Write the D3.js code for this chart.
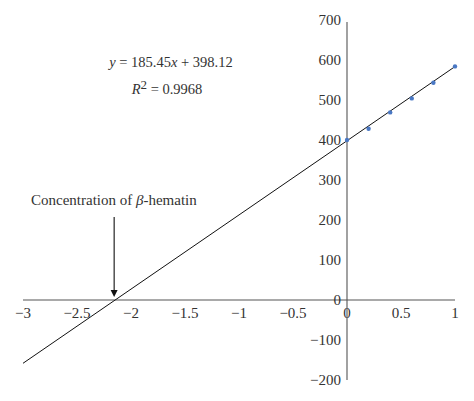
<!DOCTYPE html>
<html>
<head>
<meta charset="utf-8">
<script src="https://cdn.jsdelivr.net/npm/d3@7"></script>
<style>
  body { margin: 0; background: #fff; }
  text { font-family: "Liberation Serif", "Times New Roman", serif; fill: #333; }
</style>
</head>
<body>
<svg id="chart" width="474" height="401"></svg>
<script>
// measured points (absorbance-like values vs x)
const pointX = [0, 0.2, 0.4, 0.6, 0.8, 1.0];
const pointY = [400, 428, 469, 504, 543, 584];

// trendline from the printed equation
const slope = 185.45;
const intercept = 398.12;
const rSquared = "0.9968";

const xTicks = [-3, -2.5, -2, -1.5, -1, -0.5, 0, 0.5, 1];
const yTicks = [-200, -100, 0, 100, 200, 300, 400, 500, 600, 700];

const svg = d3.select('#chart');

const x = d3.scaleLinear().domain([-3, 1]).range([23, 455]);
const y = d3.scaleLinear().domain([0, 700]).range([300, 20]);

const fmt = d => d3.format('')(d);

// x axis line
svg.append('line')
    .attr('x1', x(-3)).attr('x2', x(1))
    .attr('y1', y(0)).attr('y2', y(0))
    .attr('stroke', '#555').attr('stroke-width', 1.1);

// x tick labels
svg.selectAll('.x-label')
    .data(xTicks)
  .join('text')
    .attr('class', 'x-label')
    .attr('x', d => x(d))
    .attr('y', y(0) + 18)
    .attr('text-anchor', 'middle')
    .style('font-size', '15px')
    .text(fmt);

// y tick labels
svg.selectAll('.y-label')
    .data(yTicks)
  .join('text')
    .attr('class', 'y-label')
    .attr('x', x(0) - 6)
    .attr('y', d => y(d))
    .attr('dy', '0.35em')
    .attr('text-anchor', 'end')
    .style('font-size', '15px')
    .text(fmt);

// y axis line
svg.append('line')
    .attr('x1', x(0)).attr('x2', x(0))
    .attr('y1', y(700) + 2).attr('y2', y(-200))
    .attr('stroke', '#555').attr('stroke-width', 1.1);

// trendline
svg.append('line')
    .attr('x1', x(-3)).attr('y1', y(slope * -3 + intercept))
    .attr('x2', x(1)).attr('y2', y(slope * 1 + intercept))
    .attr('stroke', '#111').attr('stroke-width', 1);

// data points
svg.selectAll('.pt')
    .data(pointX)
  .join('circle')
    .attr('class', 'pt')
    .attr('cx', d => x(d))
    .attr('cy', (d, i) => y(pointY[i]))
    .attr('r', 2.2)
    .attr('fill', '#4a78c4');

// equation
const eq = svg.append('text')
    .attr('x', 171).attr('y', 67)
    .attr('text-anchor', 'middle')
    .style('font-size', '14.5px');
eq.append('tspan').style('font-style', 'italic').text('y');
eq.append('tspan').text(' = 185.45');
eq.append('tspan').style('font-style', 'italic').text('x');
eq.append('tspan').text(' + 398.12');

const r2 = svg.append('text')
    .attr('x', 167).attr('y', 94)
    .attr('text-anchor', 'middle')
    .style('font-size', '14.5px');
r2.append('tspan').style('font-style', 'italic').text('R');
r2.append('tspan').attr('dy', -5).style('font-size', '13px').text('2');
r2.append('tspan').attr('dy', 5).text(' = ' + rSquared);

// annotation
const xIntercept = -intercept / slope;
const ann = svg.append('text')
    .attr('x', 31).attr('y', 205)
    .style('font-size', '15px');
ann.append('tspan').text('Concentration of ');
ann.append('tspan').style('font-style', 'italic').text('β');
ann.append('tspan').text('-hematin');

const ax = x(xIntercept) - 1;
svg.append('line')
    .attr('x1', ax).attr('x2', ax)
    .attr('y1', 217).attr('y2', y(0) - 8)
    .attr('stroke', '#111').attr('stroke-width', 1.1);
svg.append('path')
    .attr('d', `M${ax - 3.5},${y(0) - 10} L${ax + 3.5},${y(0) - 10} L${ax},${y(0) - 3} Z`)
    .attr('fill', '#111');
</script>
</body>
</html>
